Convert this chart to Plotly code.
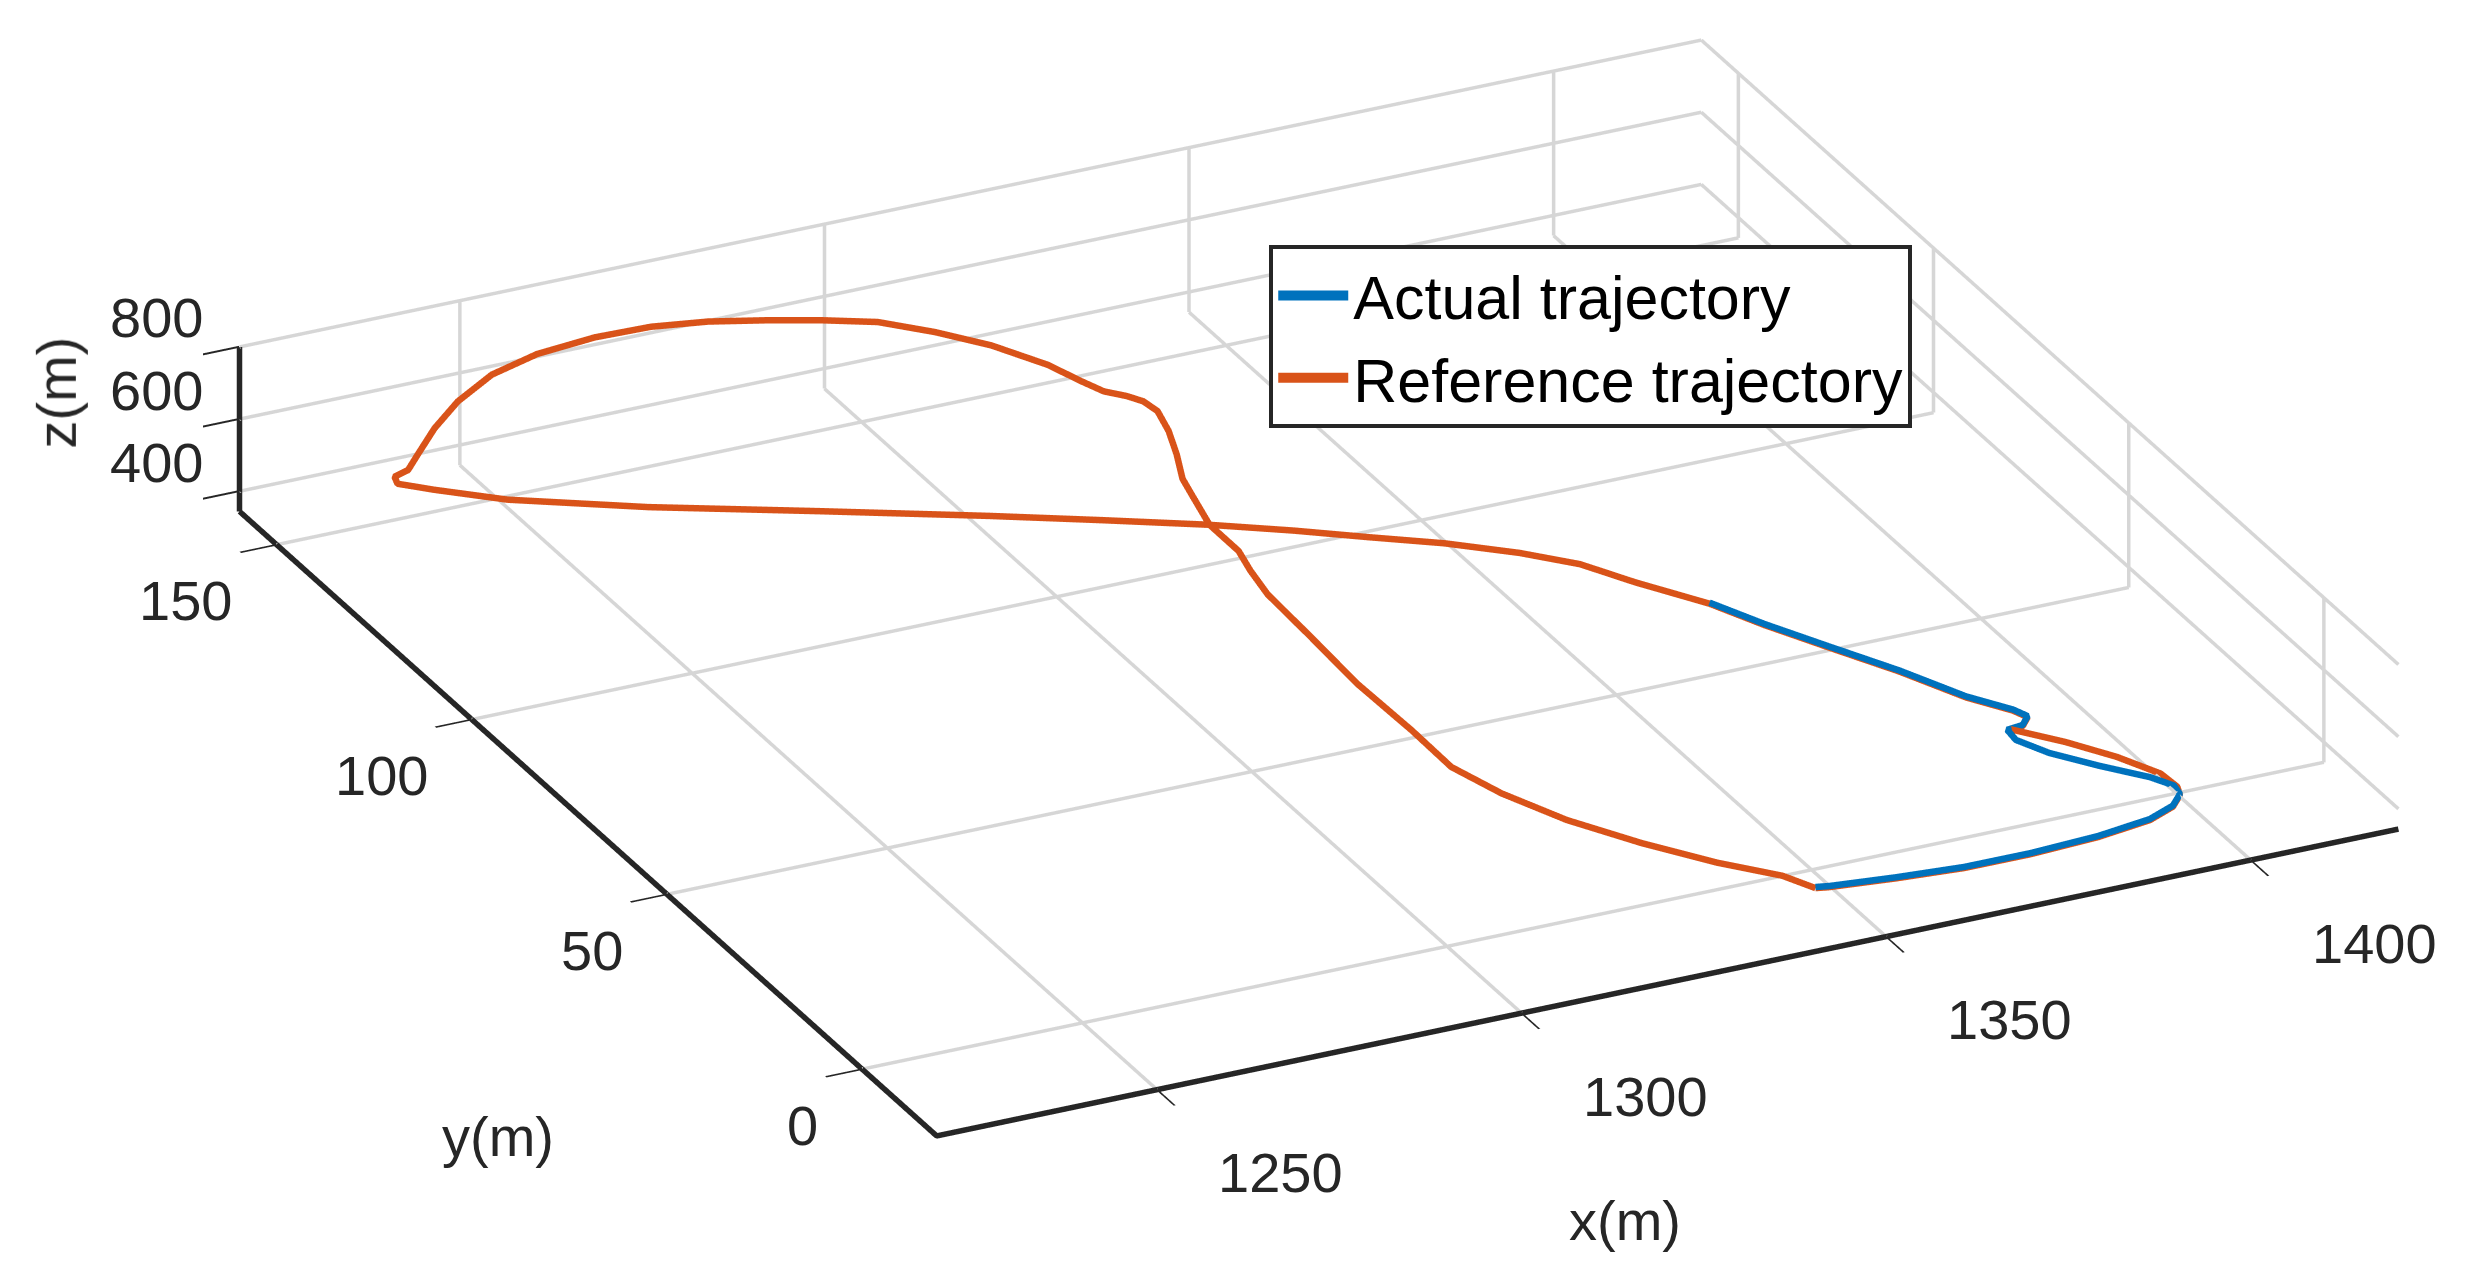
import plotly.graph_objects as go

# Reference trajectory (full figure-eight), metres
ref_x = [1344.0, 1341.5, 1335.1, 1328.3, 1322.0, 1317.3, 1314.4, 1314.1, 1313.2, 1313.3,
         1313.3, 1314.1, 1315.1, 1314.8, 1316.2, 1317.2, 1319.5, 1321.4, 1322.5, 1322.0,
         1320.6, 1318.4, 1316.9, 1314.8, 1310.3, 1305.0, 1299.3, 1292.6, 1285.6, 1278.5,
         1270.9, 1262.7, 1253.6, 1245.5, 1238.0, 1231.8, 1226.4, 1223.4, 1220.9, 1220.4,
         1224.1, 1231.9, 1248.3, 1268.6, 1288.9, 1302.3, 1314.8, 1324.4, 1332.8, 1341.3,
         1349.3, 1355.3, 1359.8, 1366.3, 1370.4, 1375.7, 1381.1, 1386.1, 1390.2, 1391.2,
         1389.5, 1387.5, 1392.8, 1397.2, 1400.5, 1400.9, 1400.2, 1397.9, 1393.4, 1385.0,
         1374.6, 1364.7, 1355.1, 1345.8, 1344.0]
ref_y = [-12.2, -8.4, -3.6, 3.0, 10.4, 18.3, 25.8, 35.4, 47.6, 60.5,
         70.8, 76.7, 81.6, 88.5, 95.2, 99.9, 105.7, 111.3, 116.2, 118.9,
         120.5, 122.3, 125.2, 129.9, 136.0, 140.6, 144.5, 146.4, 148.0, 149.2,
         149.6, 148.7, 146.4, 142.9, 137.6, 132.0, 126.3, 123.1, 121.9, 120.2,
         117.8, 113.5, 107.9, 102.3, 96.6, 92.5, 88.5, 84.8, 81.3, 77.8,
         73.5, 69.2, 63.5, 56.6, 50.1, 42.9, 35.7, 27.8, 23.5, 21.6,
         19.7, 19.3, 14.8, 10.0, 4.9, 1.4, -0.6, -3.1, -5.6, -8.1,
         -10.2, -11.6, -12.1, -12.3, -12.2]
ref_z = [437, 445, 462, 481, 500, 517, 530, 540, 554, 567,
         577, 582, 585, 592, 596, 599, 601, 603, 606, 609,
         614, 619, 625, 634, 648, 663, 677, 692, 706, 721,
         735, 749, 764, 775, 784, 790, 794, 796, 800, 799,
         790, 771, 735, 692, 648, 619, 592, 571, 551, 532,
         513, 498, 484, 464, 450, 433, 416, 399, 387, 383,
         384, 388, 373, 360, 349, 345, 344, 346, 352, 365,
         382, 399, 416, 433, 437]

# Actual trajectory (flown part, right lobe)
act_x = [1366.3, 1370.4, 1375.7, 1381.1, 1386.1, 1390.2, 1391.2, 1389.5, 1387.0, 1386.8,
         1389.3, 1393.8, 1398.6, 1400.5, 1400.2, 1397.9, 1393.4, 1385.0, 1374.6, 1364.7,
         1355.1, 1345.8, 1344.0]
act_y = [56.6, 50.1, 42.9, 35.7, 27.8, 23.5, 21.6, 19.7, 19.0, 16.4,
         12.5, 8.1, 4.1, 1.5, -0.6, -3.1, -5.6, -8.1, -10.2, -11.6,
         -12.1, -12.3, -12.2]
act_z = [467, 453, 436, 419, 402, 390, 386, 387, 391, 389,
         380, 368, 355, 349, 347, 349, 355, 368, 385, 402,
         419, 436, 440]

x_range = [1219.78, 1420.26]
y_range = [-19.1, 159.5]
z_range = [344, 800]
x_ticks = [1250, 1300, 1350, 1400]
y_ticks = [0, 50, 100, 150]
z_ticks = [400, 600, 800]

FONT = 'Liberation Sans, Arial, sans-serif'
INK = '#262626'
TICK_FONT = dict(family=FONT, size=56, color=INK)

x0, x1 = x_range
y0, y1 = y_range
z0, z1 = z_range

# MATLAB-like grid on the three back planes (floor, y = max wall, x = max wall)
gx, gy, gz = [], [], []


def seg(a, b):
    gx.extend([a[0], b[0], None])
    gy.extend([a[1], b[1], None])
    gz.extend([a[2], b[2], None])


for t in x_ticks:
    seg((t, y0, z0), (t, y1, z0))
    seg((t, y1, z0), (t, y1, z1))
for t in y_ticks:
    seg((x0, t, z0), (x1, t, z0))
    seg((x1, t, z0), (x1, t, z1))
for t in z_ticks:
    seg((x0, y1, t), (x1, y1, t))
    seg((x1, y0, t), (x1, y1, t))

fig = go.Figure()
fig.add_trace(go.Scatter3d(x=gx, y=gy, z=gz, mode='lines', showlegend=False,
                           hoverinfo='skip', line=dict(color='#d6d6d6', width=7)))
# axis lines
fig.add_trace(go.Scatter3d(x=[x1, x0, x0, None, x0, x0],
                           y=[y0, y0, y1, None, y1, y1],
                           z=[z0, z0, z0, None, z0, z1],
                           mode='lines', showlegend=False, hoverinfo='skip',
                           line=dict(color=INK, width=11)))
fig.add_trace(go.Scatter3d(x=act_x, y=act_y, z=act_z, mode='lines',
                           name='Actual trajectory',
                           line=dict(color='#0072BD', width=13)))
fig.add_trace(go.Scatter3d(x=ref_x, y=ref_y, z=ref_z, mode='lines',
                           name='Reference trajectory',
                           line=dict(color='#D95319', width=13)))


def axis(rng, ticks, pad):
    # tiny pad so the frame lines drawn on the limits are not clipped
    return dict(range=[rng[0] - pad, rng[1] + pad], tickvals=ticks, autorange=False,
                showbackground=False, showgrid=False, showline=False,
                ticks='outside', ticklen=40, tickwidth=4, tickcolor=INK,
                zeroline=False, showspikes=False, showticklabels=False,
                title=dict(text=''))


# tick labels placed MATLAB-style next to the tick marks
labels = []
for v in x_ticks:
    labels.append(dict(x=v, y=y0, z=z0, text=str(v),
                       xanchor='center', yanchor='middle', xshift=124, yshift=-83))
for v in y_ticks:
    labels.append(dict(x=x0, y=v, z=z0, text=str(v),
                       xanchor='right', yanchor='middle', xshift=-42, yshift=-56))
for v in z_ticks:
    labels.append(dict(x=x0, y=y1, z=v, text=str(v),
                       xanchor='right', yanchor='middle', xshift=-34, yshift=29))
for a in labels:
    a.update(showarrow=False, font=TICK_FONT)

k = 2.76   # orthographic zoom is set through the aspect ratio
r = 4.0
fig.update_layout(
    width=2474, height=1283,
    margin=dict(l=0, r=0, t=0, b=0),
    paper_bgcolor='white',
    font=dict(family=FONT, color=INK),
    hovermode=False,
    scene=dict(
        domain=dict(x=[0.0654, 0.9942], y=[0.0957, 1.0]),
        xaxis=axis(x_range, x_ticks, 0.05),
        yaxis=axis(y_range, y_ticks, 0.05),
        zaxis=axis(z_range, z_ticks, 0.1),
        aspectmode='manual',
        aspectratio=dict(x=k * 1.015, y=k, z=0.315),
        camera=dict(eye=dict(x=-0.3926 * r, y=-0.8110 * r, z=0.4336 * r),
                    up=dict(x=0, y=0, z=1),
                    center=dict(x=0, y=0, z=0),
                    projection=dict(type='orthographic')),
        annotations=labels,
    ),
    legend=dict(x=0.5098, y=0.815, xanchor='left', yanchor='top',
                bgcolor='white', bordercolor=INK, borderwidth=4,
                font=dict(family=FONT, size=61, color='black'),
                itemwidth=70, tracegroupgap=0),
    annotations=[
        dict(text='x(m)', x=0.6535, y=0.0547),
        dict(text='y(m)', x=0.1981, y=0.1207),
        dict(text='z(m)', x=0.0195, y=0.7004, textangle=-90),
    ],
)
for a in fig.layout.annotations:
    a.update(xref='paper', yref='paper', xanchor='center', yanchor='middle',
             showarrow=False, font=TICK_FONT)

fig.write_html("out.html")
